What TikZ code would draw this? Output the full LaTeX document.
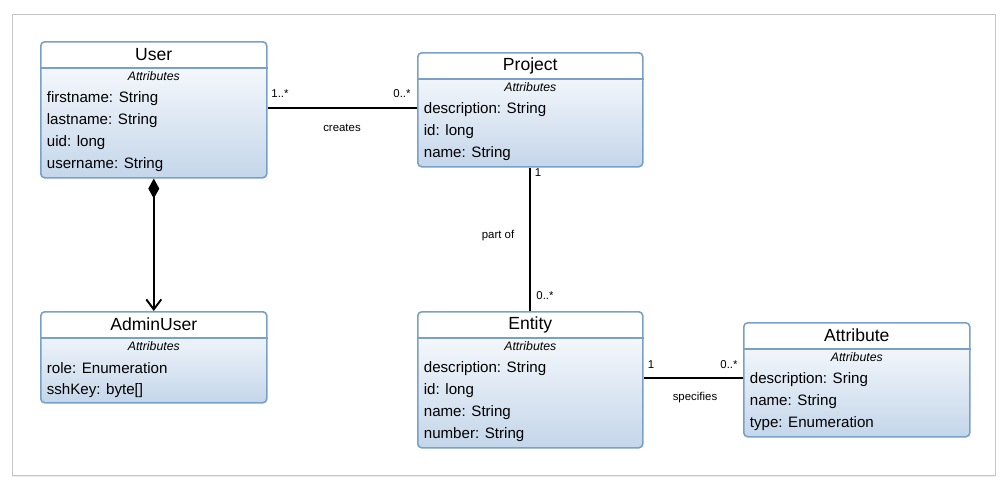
\documentclass[tikz,border=0pt]{standalone}
\usepackage{fontspec}
\setmainfont{Liberation Sans}
\usetikzlibrary{arrows.meta, positioning, shadows}
\definecolor{boxblue}{RGB}{196, 214, 234}
\definecolor{boxedge}{RGB}{120, 160, 200}
\tikzset{
    umlbox/.style = {draw=boxedge, line width=0.9pt, rectangle, rounded corners=0.08cm, inner sep=0pt, fill=white,
      path picture={\shade[top color=white, bottom color=boxblue]
        ([yshift=-0.54cm]path picture bounding box.north west) rectangle (path picture bounding box.south east);}},
    boxline/.style = {draw=boxedge, line width=0.9pt},
    titletext/.style = {inner sep=0pt, font=\fontsize{10}{12}\selectfont},
    attrhead/.style = {inner sep=0pt, font=\fontsize{7}{8}\selectfont\itshape},
    attrtext/.style = {inner sep=0pt, font=\fontsize{8.6}{10}\selectfont},
    multtext/.style = {inner sep=0pt, font=\fontsize{6.5}{8}\selectfont},
    connect/.style = {black, line width=1.1pt}
}
% name, x, y, width, height, title, attributes
\newcommand\umlclass[7]{%
  \node[umlbox, minimum width=#4*0.02cm, minimum height=#5*0.02cm, anchor=north west] (#1) at (#2,#3) {};
  \draw[boxline] ([yshift=-0.54cm]#1.north west) -- ([yshift=-0.54cm]#1.north east);
  \node[titletext] (#1-title) at ([yshift=-0.27cm]#1.north) {#6};
  \node[attrhead] (#1-head) at ([yshift=-0.71cm]#1.north) {Attributes};
  \foreach [count=\i] \a in {#7}
    \node[attrtext, anchor=west] (#1-\i) at ([xshift=0.13cm, yshift=-0.71cm-\i*0.44cm]#1.north west) {\a};
}

\begin{document}
\begin{tikzpicture}[x=0.02cm, y=-0.02cm]
\useasboundingbox (0,0) rectangle (1005,490);
\draw[gray!45, fill=white, drop shadow={opacity=0.15, shadow xshift=0pt, shadow yshift=-0.04cm}] (12,14) rectangle (995,475);

\umlclass{user}{40}{41}{226}{136}{User}{firstname: String, lastname: String, uid: long, username: String}
\umlclass{project}{417}{52}{225}{114}{Project}{description: String, id: long, name: String}
\umlclass{admin}{40}{311}{226}{91}{AdminUser}{role: Enumeration, sshKey: byte[]}
\umlclass{entity}{417}{311}{225}{136}{Entity}{description: String, id: long, name: String, number: String}
\umlclass{attribute}{743}{322}{226}{114}{Attribute}{description: Sring, name: String, type: Enumeration}

% associations
\draw[connect] (user.east |- 0,108) -- (project.west |- 0,108);
\draw[connect] (project.south) -- (entity.north);
\draw[connect] (entity.east |- 0,378) -- (attribute.west |- 0,378);
\draw[connect, {Diamond[length=0.4cm, width=0.22cm]}-{Straight Barb[length=0.2cm, width=0.3cm]}] (user.south) -- (admin.north);

% labels
\node[multtext] (m1) at (280,94) {1..*};
\node[multtext] (m2) at (402,94) {0..*};
\node[multtext] (l1) at (342,128) {creates};
\node[multtext] (m3) at (538,173) {1};
\node[multtext] (l2) at (498,236) {part of};
\node[multtext] (m4) at (545,296) {0..*};
\node[multtext] (m5) at (651,365) {1};
\node[multtext] (m6) at (729,365) {0..*};
\node[multtext] (l3) at (695,398) {specifies};
\end{tikzpicture}
\end{document}
